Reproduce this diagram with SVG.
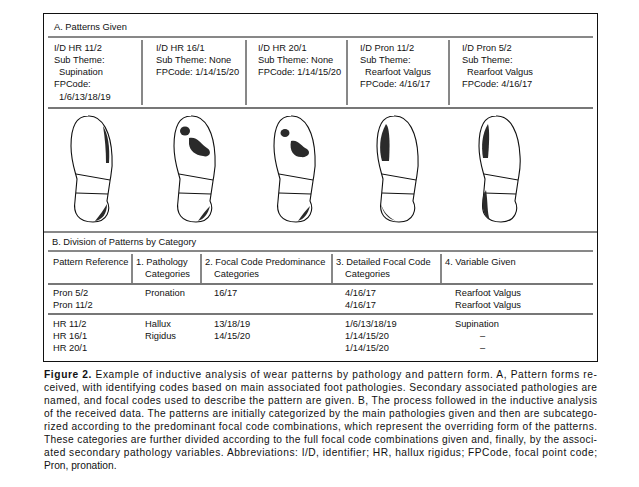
<svg xmlns="http://www.w3.org/2000/svg" width="639" height="487" viewBox="0 0 639 487">
<style>
text{font-family:"Liberation Sans",Arial,sans-serif;font-size:9.3px;fill:#111}
.cap{font-size:10.2px}
.ln{stroke:#111;stroke-width:1;fill:none}
.gl{stroke:#777;stroke-width:2;fill:none}
.shoe{fill:#fff;stroke:#111;stroke-width:1.1}
.wear{fill:#2a2a2a}
</style>
<defs>
<g id="sole">
<path class="shoe" d="M-4,0 C11,-1 19,18 20,40 C21,52 19,58 18,65 L15,85 C19,93 16,106 1,106 C-14,106 -19,97 -17,85 L-15,63 C-17,55 -21,45 -21,30 C-21,10 -15,0 -4,0 Z"/>
<path class="ln" d="M-16,58 L18,64 M-16,77 L16,78"/>
</g>
</defs>
<rect x="0" y="0" width="639" height="487" fill="#fff"/>
<g id="frame">
<rect class="ln" x="43.5" y="13.5" width="554" height="348" stroke-width="1.3"/>
<line class="ln" x1="48" y1="37" x2="593" y2="37"/>
<line class="gl" x1="48" y1="108" x2="593" y2="108"/>
<line class="ln" x1="142" y1="40" x2="142" y2="105"/>
<line class="ln" x1="246" y1="40" x2="246" y2="105"/>
<line class="ln" x1="347" y1="40" x2="347" y2="105"/>
<line class="ln" x1="449" y1="40" x2="449" y2="105"/>
<line class="ln" x1="43.5" y1="232" x2="597" y2="232" stroke-width="1.3"/>
<line class="ln" x1="48" y1="251" x2="593" y2="251"/>
<line class="ln" x1="132" y1="254" x2="132" y2="283"/>
<line class="ln" x1="201" y1="254" x2="201" y2="283"/>
<line class="ln" x1="332" y1="254" x2="332" y2="283"/>
<line class="ln" x1="441" y1="254" x2="441" y2="283"/>
<line class="gl" x1="48" y1="284" x2="593" y2="284"/>
<line class="gl" x1="48" y1="314" x2="593" y2="314" stroke-width="1.5"/>
</g>
<g id="sectionA">
<text x="54" y="30">A. Patterns Given</text>
<text x="54" y="51">I/D HR 11/2</text><text x="54" y="63">Sub Theme:</text><text x="59" y="75">Supination</text><text x="54" y="87">FPCode:</text><text x="59" y="100">1/6/13/18/19</text>
<text x="156" y="51">I/D HR 16/1</text><text x="156" y="63">Sub Theme: None</text><text x="156" y="75">FPCode: 1/14/15/20</text>
<text x="258" y="51">I/D HR 20/1</text><text x="258" y="63">Sub Theme: None</text><text x="258" y="75">FPCode: 1/14/15/20</text>
<text x="360" y="51">I/D Pron 11/2</text><text x="360" y="63">Sub Theme:</text><text x="365" y="75">Rearfoot Valgus</text><text x="360" y="87">FPCode: 4/16/17</text>
<text x="462" y="51">I/D Pron 5/2</text><text x="462" y="63">Sub Theme:</text><text x="467" y="75">Rearfoot Valgus</text><text x="462" y="87">FPCode: 4/16/17</text>
</g>
<g id="shoe1" transform="translate(92,116)"><use href="#sole"/>
<path class="wear" d="M11,10 C16,18 18,30 17,47 L14,47 C14,35 13,22 11,10Z"/>
<path class="wear" d="M15,88 C15,98 10,104 3,105 C8,99 12,93 15,88Z"/></g>
<g id="shoe2" transform="translate(195,116)"><use href="#sole"/>
<ellipse class="wear" cx="-10" cy="15" rx="5" ry="4.5"/>
<path class="wear" d="M-6,22 C2,20 6,28 12,32 C18,36 14,42 8,40 C0,39 -5,35 -6,28Z"/>
<path class="wear" d="M15,90 C13,98 9,103 3,105 C7,99 11,94 15,90Z"/></g>
<g id="shoe3" transform="translate(295,116)"><use href="#sole"/>
<ellipse class="wear" cx="-10" cy="17" rx="4.5" ry="4"/>
<path class="wear" d="M-4,25 C3,23 6,30 12,33 C17,37 12,42 6,41 C-1,41 -6,35 -4,25Z"/>
<path class="wear" d="M15,90 C13,98 9,103 3,105 C7,99 11,94 15,90Z"/></g>
<g id="shoe4" transform="translate(398,116)"><use href="#sole"/>
<path class="wear" d="M-12,8 C-8,12 -8,30 -9,45 L-16,45 C-19,35 -19,20 -12,8Z"/>
<path class="wear" d="M-17,88 C-15,98 -9,103 -2,105 C-10,101 -15,95 -17,88Z"/></g>
<g id="shoe5" transform="translate(500,116)"><use href="#sole"/>
<path class="wear" d="M-12,8 C-10,15 -11,30 -12,42 L-17,42 C-19,30 -18,18 -12,8Z"/>
<path class="wear" d="M-14,74 C-12,85 -13,98 -10,104 C-16,100 -19,92 -17,80Z"/></g>
<g id="sectionB">
<text x="52" y="245">B. Division of Patterns by Category</text>
<text x="53" y="265">Pattern Reference</text>
<text x="136" y="265">1. Pathology</text><text x="145" y="277">Categories</text>
<text x="205" y="265">2. Focal Code Predominance</text><text x="214" y="277">Categories</text>
<text x="336" y="265">3. Detailed Focal Code</text><text x="345" y="277">Categories</text>
<text x="445" y="265">4. Variable Given</text>
<text x="53" y="296">Pron 5/2</text><text x="53" y="308">Pron 11/2</text>
<text x="145" y="296">Pronation</text><text x="214" y="296">16/17</text>
<text x="345" y="296">4/16/17</text><text x="345" y="308">4/16/17</text>
<text x="455" y="296">Rearfoot Valgus</text><text x="455" y="308">Rearfoot Valgus</text>
<text x="53" y="327">HR 11/2</text><text x="53" y="339">HR 16/1</text><text x="53" y="351">HR 20/1</text>
<text x="145" y="327">Hallux</text><text x="145" y="339">Rigidus</text>
<text x="214" y="327">13/18/19</text><text x="214" y="339">14/15/20</text>
<text x="345" y="327">1/6/13/18/19</text><text x="345" y="339">1/14/15/20</text><text x="345" y="351">1/14/15/20</text>
<text x="455" y="327">Supination</text><text x="480" y="339">–</text><text x="480" y="351">–</text>
</g>
<g id="caption" class="cap">
<text class="cap" x="44" y="378" textLength="553" lengthAdjust="spacing"><tspan font-weight="bold">Figure 2.</tspan> Example of inductive analysis of wear patterns by pathology and pattern form. A, Pattern forms re-</text>
<text class="cap" x="44" y="391" textLength="553" lengthAdjust="spacing">ceived, with identifying codes based on main associated foot pathologies. Secondary associated pathologies are</text>
<text class="cap" x="44" y="404" textLength="553" lengthAdjust="spacing">named, and focal codes used to describe the pattern are given. B, The process followed in the inductive analysis</text>
<text class="cap" x="44" y="417" textLength="553" lengthAdjust="spacing">of the received data. The patterns are initially categorized by the main pathologies given and then are subcatego-</text>
<text class="cap" x="44" y="430" textLength="553" lengthAdjust="spacing">rized according to the predominant focal code combinations, which represent the overriding form of the patterns.</text>
<text class="cap" x="44" y="443" textLength="553" lengthAdjust="spacing">These categories are further divided according to the full focal code combinations given and, finally, by the associ-</text>
<text class="cap" x="44" y="456" textLength="553" lengthAdjust="spacing">ated secondary pathology variables. Abbreviations: I/D, identifier; HR, hallux rigidus; FPCode, focal point code;</text>
<text class="cap" x="44" y="469">Pron, pronation.</text>
</g>
</svg>
